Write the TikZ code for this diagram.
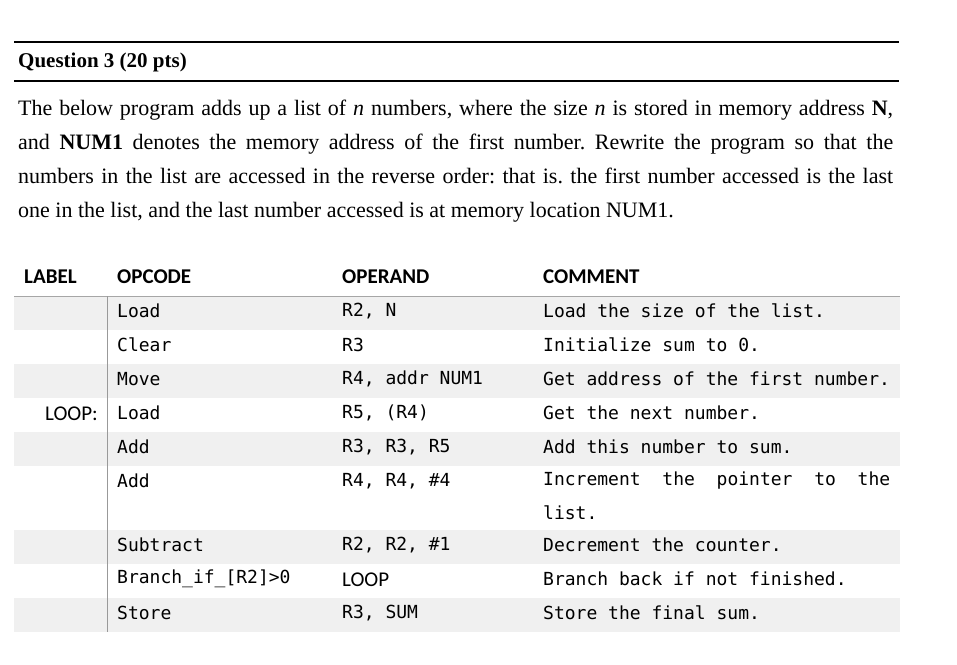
\documentclass[tikz,border=0pt]{standalone}
\usepackage{fontspec}
\setmainfont{Liberation Serif}
\setmonofont{DejaVu Sans Mono}
\newfontfamily\calfont{Carlito}
\frenchspacing
\begin{document}
\begin{tikzpicture}[x=1pt,y=-1pt,
  para/.style={anchor=base west,inner sep=0,font=\fontsize{22}{26}\selectfont},
  mono/.style={anchor=west,inner sep=0,font=\fontsize{18}{22}\selectfont\ttfamily},
  hd/.style={anchor=west,inner sep=0,font=\fontsize{21}{25}\selectfont\calfont\bfseries},
  calt/.style={anchor=west,inner sep=0,font=\fontsize{21}{25}\selectfont\calfont}]
\useasboundingbox (0,0) rectangle (957,664);
\definecolor{rowg}{HTML}{F0F0F0}
\draw[line width=2pt] (14,42) -- (899,42);
\draw[line width=2.5pt] (14,81) -- (899,81);
\node[para,font=\fontsize{21}{25}\selectfont\bfseries] (q) at (18,67) {Question 3 (20 pts)};
\node[para] (l1) at (18,115) {\makebox[875pt][s]{The below program adds up a list of \textit{n} numbers, where the size \textit{n} is stored in memory address \textbf{N},}};
\node[para] (l2) at (18,149) {\makebox[875pt][s]{and \textbf{NUM1} denotes the memory address of the first number. Rewrite the program so that the}};
\node[para] (l3) at (18,183) {\makebox[875pt][s]{numbers in the list are accessed in the reverse order: that is. the first number accessed is the last}};
\node[para] (l4) at (18,217) {one in the list, and the last number accessed is at memory location NUM1.};
% rows
\foreach \a/\b in {296/330,364/398,432/466,530/564,598/632}
  \fill[rowg] (14,\a) rectangle (900,\b);
\draw[gray!70,line width=0.8pt] (14,296) -- (900,296);
\draw[gray!80,line width=0.8pt] (107,296) -- (107,632);
\node[hd] (h1) at (24,277) {LABEL};
\node[hd] (h2) at (117,277) {OPCODE};
\node[hd] (h3) at (342,277) {OPERAND};
\node[hd] (h4) at (543,277) {COMMENT};
\node[mono] (o1) at (117,311) {Load};
\node[mono] (o2) at (117,345) {Clear};
\node[mono] (o3) at (117,379) {Move};
\node[mono] (o4) at (117,413) {Load};
\node[mono] (o5) at (117,447) {Add};
\node[mono] (o6) at (117,481) {Add};
\node[mono] (o7) at (117,545) {Subtract};
\node[mono] (o8) at (117,579) {Branch\_if\_[R2]>0};
\node[mono] (o9) at (117,613) {Store};
\node[calt,anchor=east] (lp) at (98,414) {LOOP:};
\node[mono] (p1) at (342,311) {R2, N};
\node[mono] (p2) at (342,345) {R3};
\node[mono] (p3) at (342,379) {R4, addr NUM1};
\node[mono] (p4) at (342,413) {R5, (R4)};
\node[mono] (p5) at (342,447) {R3, R3, R5};
\node[mono] (p6) at (342,481) {R4, R4, \#4};
\node[mono] (p7) at (342,545) {R2, R2, \#1};
\node[calt] (p8) at (342,580) {LOOP};
\node[mono] (p9) at (342,613) {R3, SUM};
\node[mono] (c1) at (543,311) {Load the size of the list.};
\node[mono] (c2) at (543,345) {Initialize sum to 0.};
\node[mono] (c3) at (543,379) {Get address of the first number.};
\node[mono] (c4) at (543,413) {Get the next number.};
\node[mono] (c5) at (543,447) {Add this number to sum.};
\node[mono] (c6) at (543,481) {\makebox[347pt][l]{Increment\hfill the\hfill pointer\hfill to\hfill the}};
\node[mono] (c6b) at (543,513) {list.};
\node[mono] (c7) at (543,545) {Decrement the counter.};
\node[mono] (c8) at (543,579) {Branch back if not finished.};
\node[mono] (c9) at (543,613) {Store the final sum.};
\end{tikzpicture}
\end{document}
